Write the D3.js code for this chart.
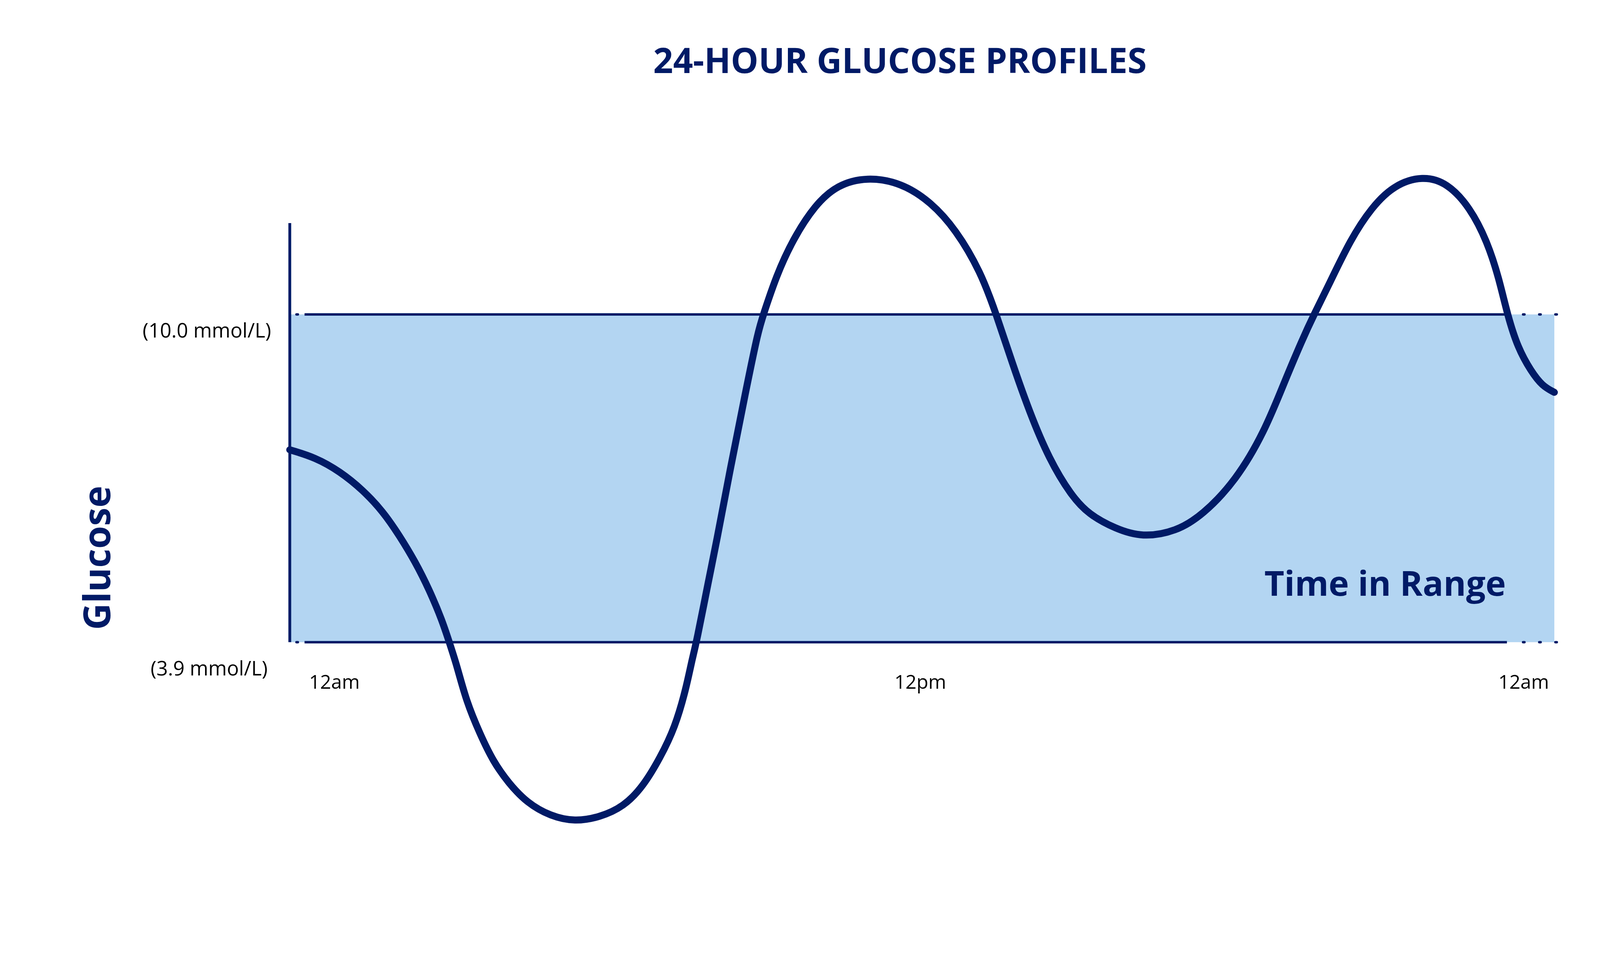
<!DOCTYPE html>
<html>
<head>
<meta charset="utf-8">
<script src="https://cdn.jsdelivr.net/npm/d3@7"></script>
<style>
  html, body { margin: 0; padding: 0; background: #fff; overflow: hidden; }
  svg { display: block; }
  text { font-family: "Open Sans", "Noto Sans", sans-serif; }
</style>
</head>
<body>
<svg id="svg_1"></svg>
<script>
// hours after midnight and glucose (mmol/L)
var hours = [0, 0.48, 0.95, 1.39, 1.77, 2.07, 2.38, 2.65, 2.89, 3.03, 3.17, 3.35, 3.61, 3.86,
  4.15, 4.50, 4.95, 5.41, 5.88, 6.34, 6.71, 7.03, 7.31, 7.52, 7.63, 7.72, 7.95, 8.09, 8.37,
  8.65, 8.89, 8.99, 9.23, 9.55, 9.97, 10.39, 10.95, 11.61, 12.17, 12.64, 13.11, 13.41, 13.71,
  14.04, 14.41, 14.83, 15.16, 15.67, 16.18, 16.82, 17.32, 17.96, 18.50, 18.86, 19.22, 19.44,
  19.73, 20.13, 20.53, 20.96, 21.50, 21.97, 22.40, 22.73, 22.95, 23.11, 23.31, 23.56, 23.77, 24];
var glucose = [7.48, 7.34, 7.08, 6.73, 6.33, 5.90, 5.40, 4.87, 4.31, 3.89, 3.47, 2.80, 2.19, 1.68,
  1.28, 0.91, 0.66, 0.56, 0.64, 0.84, 1.22, 1.75, 2.31, 3.03, 3.56, 3.90, 5.06, 5.72, 7.18,
  8.55, 9.70, 10.0, 10.71, 11.40, 12.04, 12.41, 12.56, 12.45, 12.09, 11.58, 10.80, 10.0, 9.10,
  8.18, 7.31, 6.63, 6.28, 6.01, 5.85, 5.96, 6.26, 6.91, 7.82, 8.70, 9.54, 10.0,
  10.57, 11.39, 11.99, 12.41, 12.58, 12.45, 11.99, 11.35, 10.67, 9.99, 9.37, 8.94, 8.67, 8.55];

var rangeLow = 3.9;
var rangeHigh = 10.0;
var rangeLabels = ["(10.0 mmol/L)", "(3.9 mmol/L)"];
var tickHours = [0, 12, 24];
var tickLabels = ["12am", "12pm", "12am"];
var axisTop = 11.7;

var chart_width = 4555;
var chart_height = 2442;
var navy = "#001a66";
var band = "#b3d5f2";

var svg_1 = d3.select("#svg_1")
  .attr("viewBox", "0 0 " + chart_width + " " + chart_height)
  .attr("preserveAspectRatio", "xMidYMin meet")
  .attr("width", window.innerWidth)
  .attr("height", window.innerHeight);

var x_scale = d3.scaleLinear().domain([0, 24]).range([825, 4425]);
var y_scale = d3.scaleLinear().domain([rangeLow, rangeHigh]).range([1828, 895]);

var data = hours.map(function(h, i) { return { h: h, g: glucose[i] }; });

// title
svg_1.append("text")
  .attr("x", 2562)
  .attr("y", 208)
  .attr("text-anchor", "middle")
  .attr("fill", navy)
  .style("font-size", "99px")
  .style("font-weight", 700)
  .text("24-HOUR GLUCOSE PROFILES");

// time in range band
svg_1.append("rect")
  .attr("x", x_scale(0))
  .attr("y", y_scale(rangeHigh))
  .attr("width", x_scale(24) - x_scale(0))
  .attr("height", y_scale(rangeLow) - y_scale(rangeHigh))
  .attr("fill", band);

// threshold lines: a dot, a solid run, then dots to the end
var solidEnd = x_scale(23.1);
[rangeHigh, rangeLow].forEach(function(v) {
  var y = y_scale(v);
  svg_1.append("line")
    .attr("x1", x_scale(0) + 42).attr("x2", solidEnd)
    .attr("y1", y).attr("y2", y)
    .attr("stroke", navy).attr("stroke-width", 7);
  svg_1.append("line")
    .attr("x1", x_scale(0) + 19).attr("x2", x_scale(0) + 23)
    .attr("y1", y).attr("y2", y)
    .attr("stroke", navy).attr("stroke-width", 7)
    .attr("stroke-linecap", "round");
  svg_1.append("line")
    .attr("x1", solidEnd + 46).attr("x2", x_scale(24) + 8)
    .attr("y1", y).attr("y2", y)
    .attr("stroke", navy).attr("stroke-width", 7)
    .attr("stroke-linecap", "round")
    .attr("stroke-dasharray", "4 42");
});

// y axis line
svg_1.append("line")
  .attr("x1", x_scale(0)).attr("x2", x_scale(0))
  .attr("y1", y_scale(axisTop)).attr("y2", y_scale(rangeLow))
  .attr("stroke", navy).attr("stroke-width", 8);

// range labels
svg_1.append("g")
  .selectAll("text")
  .data([rangeHigh, rangeLow])
  .enter()
  .append("text")
  .attr("x", function(d, i) { return i == 0 ? 772 : 762; })
  .attr("y", function(d, i) { return y_scale(d) + (i == 0 ? 66 : 95); })
  .attr("text-anchor", "end")
  .attr("fill", "#000")
  .style("font-size", "57px")
  .text(function(d, i) { return rangeLabels[i]; });

// x tick labels
svg_1.append("g")
  .selectAll("text")
  .data(tickHours)
  .enter()
  .append("text")
  .attr("x", function(d, i) { return x_scale(d) + (i == 0 ? 55 : (i == 2 ? -15 : -5)); })
  .attr("y", 1961)
  .attr("text-anchor", function(d, i) { return i == 0 ? "start" : (i == 2 ? "end" : "middle"); })
  .attr("fill", "#000")
  .style("font-size", "55px")
  .text(function(d, i) { return tickLabels[i]; });

// axis title
svg_1.append("text")
  .attr("transform", "translate(314,1588) rotate(-90)")
  .attr("text-anchor", "middle")
  .attr("fill", navy)
  .style("font-size", "105px")
  .style("font-weight", 700)
  .text("Glucose");

svg_1.append("text")
  .attr("x", 4287)
  .attr("y", 1696)
  .attr("text-anchor", "end")
  .attr("fill", navy)
  .style("font-size", "98px")
  .style("font-weight", 700)
  .text("Time in Range");

// glucose curve
var line = d3.line()
  .x(function(d) { return x_scale(d.h); })
  .y(function(d) { return y_scale(d.g); })
  .curve(d3.curveBasis);

svg_1.append("path")
  .datum(data)
  .attr("fill", "none")
  .attr("stroke", navy)
  .attr("stroke-width", 20)
  .attr("stroke-linejoin", "round")
  .attr("stroke-linecap", "round")
  .attr("d", line);
</script>
</body>
</html>
